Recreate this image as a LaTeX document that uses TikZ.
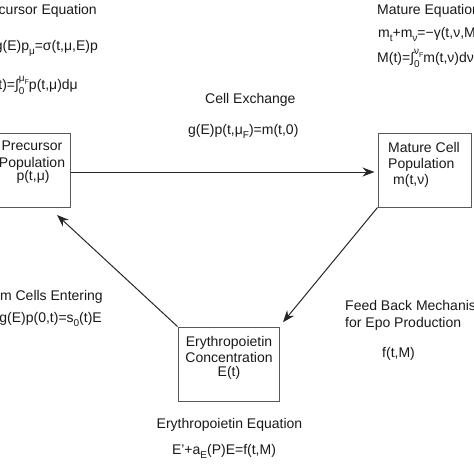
\documentclass[tikz,border=0pt]{standalone}
\usepackage{fontspec}
\setmainfont{Liberation Sans}
\usetikzlibrary{arrows.meta}
\newcommand{\sbs}[1]{\raisebox{-0.6ex}{\fontsize{10}{10}\selectfont #1}}
\newcommand{\intlim}[2]{∫\rlap{\raisebox{-0.8ex}{\fontsize{10}{10}\selectfont #1}}\raisebox{1.0ex}{\fontsize{10}{10}\selectfont #2}}
\begin{document}
\begin{tikzpicture}[x=1pt,y=-1pt,
  txt/.style={inner sep=0pt, font=\fontsize{14}{16}\selectfont, text=black!90},
  box/.style={draw=black!65, line width=1pt, rectangle, inner sep=0pt},
  arr/.style={draw=black!85, line width=1pt, -{Stealth[length=12pt,width=9pt,inset=4pt]}}]
\useasboundingbox (0,0) rectangle (474,474);
\clip (0,0) rectangle (474,474);
% boxes
\node[box, minimum width=74pt, minimum height=74pt] (prec) at (33,170) {};
\node[box, minimum width=93pt, minimum height=74pt] (mat) at (424.5,170) {};
\node[box, minimum width=101pt, minimum height=74pt] (ery) at (228.5,364) {};
% box texts
\node[txt, anchor=base] (p1) at (32,150) {Precursor};
\node[txt, anchor=base] (p2) at (32,167) {Population};
\node[txt, anchor=base] (p3) at (33,180) {p(t,μ)};
\node[txt, anchor=base west] (m1) at (388,152) {Mature Cell};
\node[txt, anchor=base west] (m2) at (388,168) {Population};
\node[txt, anchor=base west] (m3) at (393,184) {m(t,ν)};
\node[txt, anchor=base] (e1) at (229,346) {Erythropoietin};
\node[txt, anchor=base] (e2) at (229,362) {Concentration};
\node[txt, anchor=base] (e3) at (229,376) {E(t)};
% equations top left
\node[txt, anchor=base east] (pe1) at (97,14) {Precursor Equation};
\node[txt, anchor=base east] (pe2) at (98,50) {p\sbs{t}+g(E)p\sbs{μ}=σ(t,μ,E)p};
\node[txt, anchor=base east] (pe3) at (78,89) {P(t)=\intlim{0}{μ\sbs{\fontsize{7}{7}\selectfont F}}p(t,μ)dμ};
% equations top right
\node[txt, anchor=base west] (me1) at (377,14) {Mature Equation};
\node[txt, anchor=base west] (me2) at (378,37) {m\sbs{t}+m\sbs{ν}=−γ(t,ν,M)m};
\node[txt, anchor=base west] (me3) at (377,62) {M(t)=\intlim{0}{ν\sbs{\fontsize{7}{7}\selectfont F}}m(t,ν)dν};
% cell exchange
\node[txt, anchor=base west] (ce1) at (205,103) {Cell Exchange};
\node[txt, anchor=base west] (ce2) at (188,134) {g(E)p(t,μ\sbs{F})=m(t,0)};
% stem cells
\node[txt, anchor=base east] (sc1) at (103,300) {Stem Cells Entering};
\node[txt, anchor=base east] (sc2) at (102,322) {g(E)p(0,t)=s\sbs{0}(t)E};
% feedback
\node[txt, anchor=base west] (fb1) at (345,310) {Feed Back Mechanism};
\node[txt, anchor=base west] (fb2) at (345,327) {for Epo Production};
\node[txt, anchor=base west] (fb3) at (382,357) {f(t,M)};
% erythropoietin equation
\node[txt, anchor=base] (ee1) at (229.5,428) {Erythropoietin Equation};
\node[txt, anchor=base] (ee2) at (224,454) {E'+a\sbs{E}(P)E=f(t,M)};
% connectors
\coordinate (ptip) at (57,215);
\draw[arr, shorten >=3pt] ([yshift=-2pt]prec.east) -- ([yshift=-2pt]mat.west);
\draw[arr, shorten >=5.5pt] (mat.south west) -- (ery.north east);
\draw[arr] (ery.north west) -- (ptip);
\end{tikzpicture}
\end{document}
